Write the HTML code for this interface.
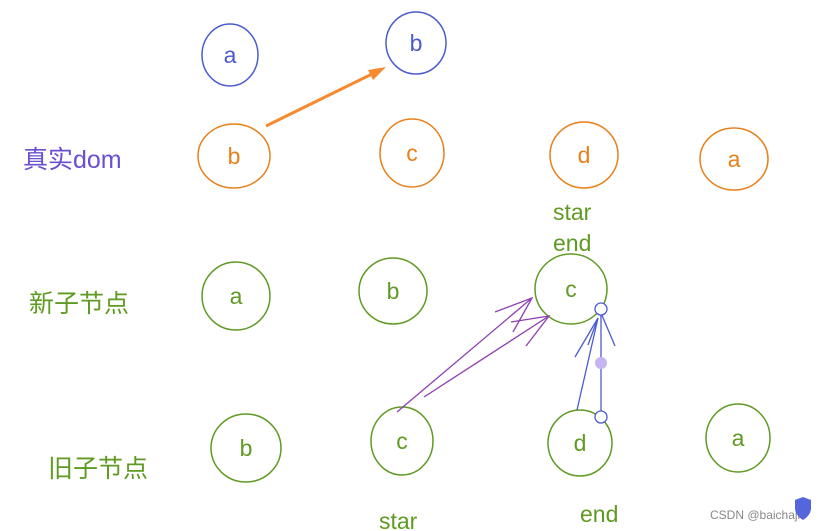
<!DOCTYPE html>
<html><head><style>body{margin:0;background:#fff}svg{display:block}</style></head><body>
<svg width="824" height="531" xmlns="http://www.w3.org/2000/svg" font-family="Liberation Sans, Noto Sans CJK SC, sans-serif">
<g fill="none" stroke-width="1.5">
<ellipse cx="230" cy="55" rx="28" ry="31" stroke="#4a5bd0"/>
<ellipse cx="416" cy="43" rx="30" ry="31" stroke="#4a5bd0"/>
<g stroke="#e8801a">
<ellipse cx="234" cy="156" rx="36" ry="32"/>
<ellipse cx="412" cy="153" rx="32" ry="34"/>
<ellipse cx="584" cy="155" rx="34" ry="33"/>
<ellipse cx="734" cy="159" rx="34" ry="31"/>
</g>
<g stroke="#5f9a22">
<ellipse cx="236" cy="296" rx="34" ry="34"/>
<ellipse cx="393" cy="291" rx="34" ry="33"/>
<ellipse cx="571" cy="289" rx="36" ry="35"/>
<ellipse cx="246" cy="448" rx="35" ry="34"/>
<ellipse cx="402" cy="441" rx="31" ry="34"/>
<ellipse cx="580" cy="443" rx="32" ry="33"/>
<ellipse cx="738" cy="438" rx="32" ry="34"/>
</g>
</g>
<g font-size="23" text-anchor="middle">
<text x="230" y="63" fill="#4a5bd0">a</text>
<text x="416" y="51" fill="#4a5bd0">b</text>
<g fill="#e8801a">
<text x="234" y="164">b</text><text x="412" y="161">c</text><text x="584" y="163">d</text><text x="734" y="167">a</text>
</g>
<g fill="#5f9a22">
<text x="236" y="304">a</text><text x="393" y="299">b</text><text x="571" y="297">c</text>
<text x="246" y="456">b</text><text x="402" y="449">c</text><text x="580" y="451">d</text><text x="738" y="446">a</text>
</g>
</g>
<text x="23" y="168" font-size="25" fill="#6a4fd0">真实dom</text>
<g font-size="25" fill="#5f9a22">
<text x="29" y="312">新子节点</text>
<text x="48" y="477">旧子节点</text>
</g>
<g font-size="23" fill="#5f9a22">
<text x="553" y="220">star</text>
<text x="553" y="251">end</text>
<text x="379" y="529">star</text>
<text x="580" y="522">end</text>
</g>
<line x1="266" y1="126" x2="372" y2="74" stroke="#f58a30" stroke-width="3"/>
<polygon points="386,67 368,70 373,80" fill="#f58a30"/>
<g stroke="#8e3fb0" stroke-width="1.3" fill="none">
<line x1="397" y1="412" x2="532" y2="298"/>
<polyline points="495,312 532,298 513,332"/>
<line x1="424" y1="397" x2="549" y2="316"/>
<polyline points="511,322 549,316 526,346"/>
</g>
<g stroke="#4a5bd0" stroke-width="1.3" fill="none">
<line x1="601" y1="309" x2="601" y2="417"/>
<line x1="577" y1="410" x2="598" y2="318"/>
<line x1="598" y1="318" x2="575" y2="357"/>
<line x1="598" y1="318" x2="588" y2="345"/>
<line x1="601" y1="313" x2="615" y2="346"/>
<circle cx="601" cy="309" r="6" fill="#fff"/>
<circle cx="601" cy="417" r="6" fill="#fff"/>
</g>
<circle cx="601" cy="363" r="6" fill="#c4b4f4"/>
<text x="710" y="519" font-size="12" fill="#888">CSDN @baichaji</text>
<path d="M795,500 L803,497 L811,500 L811,508 Q811,515 803,520 Q795,515 795,508 Z" fill="#5566dd"/>
</svg>
</body></html>
